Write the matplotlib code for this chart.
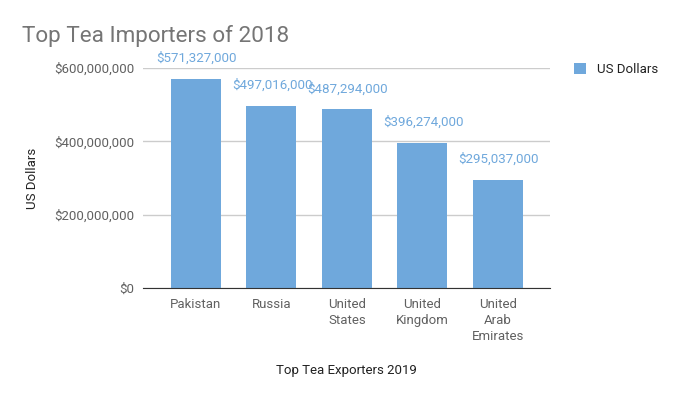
import matplotlib.pyplot as plt
from matplotlib.ticker import FuncFormatter
import numpy as np

plt.rcParams['font.family'] = ['Roboto', 'DejaVu Sans']

# Data
countries = ['Pakistan', 'Russia', 'United\nStates', 'United\nKingdom', 'United\nArab\nEmirates']
usd = [571327000, 497016000, 487294000, 396274000, 295037000]

bar_color = '#6fa8dc'

fig = plt.figure(figsize=(6.79, 3.95), dpi=100)
ax = fig.add_axes([0.2106, 0.2709, 0.5994, 0.5569])

x = np.arange(len(countries))
bars = ax.bar(x, usd, width=0.66, color=bar_color, label='US Dollars', zorder=3)

# value labels above bars
for xi, v in zip(x, usd):
    ax.text(xi + 0.01, v + 38e6, f'${v:,.0f}', ha='center', va='bottom',
            color=bar_color, fontsize=9.6, zorder=4)

ax.set_xlim(-0.7, 4.69)
ax.set_ylim(0, 600e6)
ax.set_yticks([0, 200e6, 400e6, 600e6])
ax.yaxis.set_major_formatter(FuncFormatter(lambda v, p: f'${v:,.0f}'))
ax.set_xticks(x)
ax.set_xticklabels(countries, linespacing=1.3)

ax.grid(axis='y', color='#cccccc', linewidth=1, zorder=0)
for s in ['top', 'right', 'left']:
    ax.spines[s].set_visible(False)
ax.spines['bottom'].set_color('#333333')
ax.spines['bottom'].set_zorder(5)
ax.tick_params(axis='both', length=0, colors='#616161', labelsize=9.5)
ax.tick_params(axis='y', pad=6)
ax.tick_params(axis='x', pad=7)

ax.set_ylabel('US Dollars', fontsize=9.5, color='#222222')
ax.set_xlabel('Top Tea Exporters 2019', fontsize=9.5, color='#222222', labelpad=15.5)
ax.yaxis.set_label_coords(-0.255, 0.5)

fig.text(0.032, 0.893, 'Top Tea Importers of 2018', fontsize=16.2, color='#757575',
         ha='left', va='baseline')

ax.legend(loc='upper left', bbox_to_anchor=(1.03, 1.076), frameon=False,
          fontsize=9.5, handlelength=0.9, handleheight=0.9, labelcolor='#222222')

fig.savefig('out.png', dpi=100)
